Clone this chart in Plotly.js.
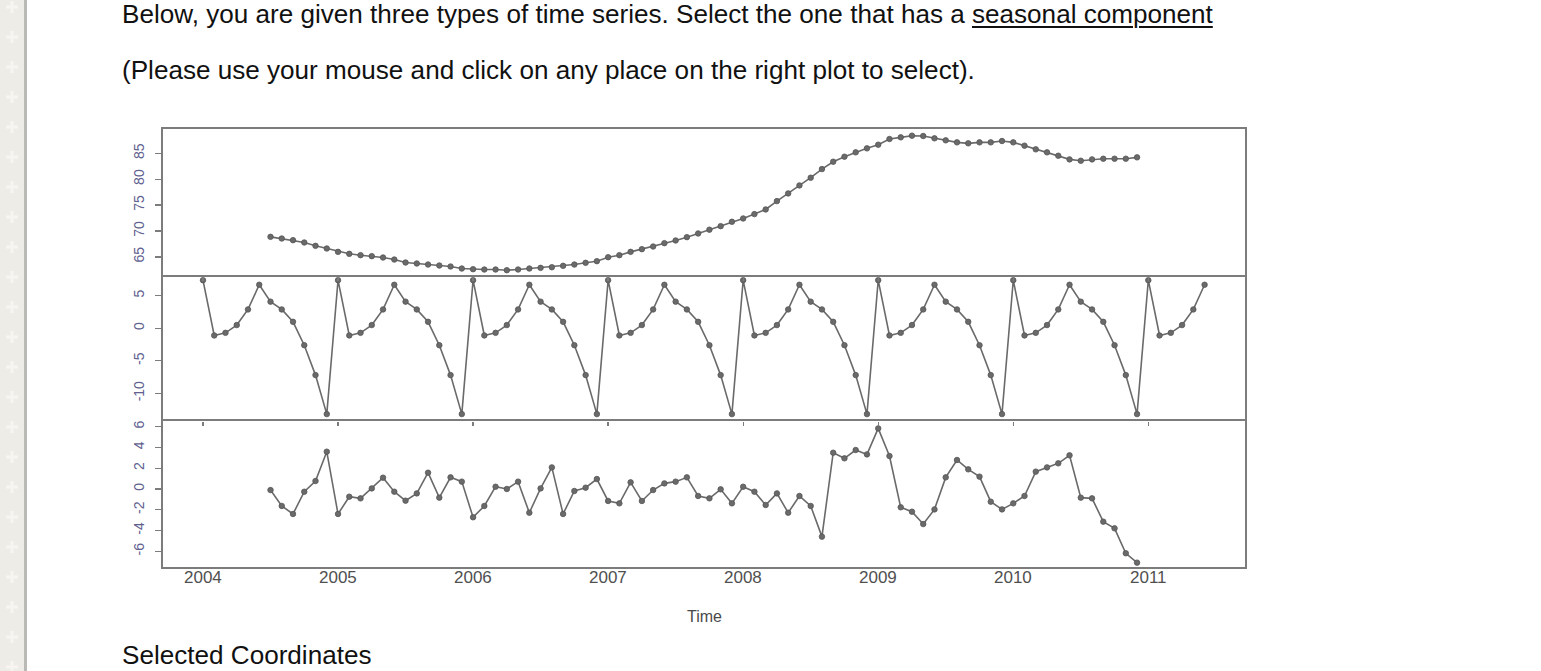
<!DOCTYPE html>
<html>
<head>
<meta charset="utf-8">
<script src="https://cdn.plot.ly/plotly-3.0.1.min.js"></script>
<style>
  html, body { margin: 0; padding: 0; width: 1541px; height: 671px; overflow: hidden; background: #ffffff; }
  body { position: relative; font-family: "Liberation Sans", Arial, Helvetica, sans-serif; color: #111; }
  #strip { position: absolute; left: 0; top: 0; width: 24px; height: 671px; background: #eeece6; border-right: 3px solid #b9b9b6; }
  .txt { position: absolute; left: 122px; font-size: 26.1px; line-height: 26px; white-space: nowrap; z-index: 5; }
  .txt u { text-decoration-thickness: 1.5px; text-underline-offset: 3px; }
  #plot { position: absolute; left: 0; top: 0; width: 1541px; height: 671px; z-index: 2; }
</style>
</head>
<body>
<div id="strip">
  <svg width="24" height="671" xmlns="http://www.w3.org/2000/svg">
    <defs>
      <pattern id="plus" x="0" y="-8" width="24" height="30" patternUnits="userSpaceOnUse">
        <path d="M12 9 V21 M6 15 H18" stroke="#f6f5f1" stroke-width="3"/>
      </pattern>
    </defs>
    <rect width="24" height="671" fill="url(#plus)"/>
  </svg>
</div>
<div class="txt" id="t1" style="top:1px;">Below, you are given three types of time series. Select the one that has a <u>seasonal component</u></div>
<div class="txt" id="t2" style="top:57px;">(Please use your mouse and click on any place on the right plot to select).</div>
<div class="txt" id="t3" style="top:642px;">Selected Coordinates</div>
<div id="plot"></div>
<script>
// ---- data (monthly series) ----
var startYear = 2004;          // seasonal series starts Jan 2004
var trendStartMonth = 6;       // trend / random start Jul 2004 (months after Jan 2004)

var yearTicks = [2004, 2005, 2006, 2007, 2008, 2009, 2010, 2011];
var yearLabels = ["2004", "2005", "2006", "2007", "2008", "2009", "2010", "2011"];

var trendTicks = [65, 70, 75, 80, 85];
var trendTickLabels = ["65", "70", "75", "80", "85"];
var seasonalTicks = [-10, -5, 0, 5];
var seasonalTickLabels = ["-10", "-5", "0", "5"];
var randomTicks = [-6, -4, -2, 0, 2, 4, 6];
var randomTickLabels = ["-6", "-4", "-2", "0", "2", "4", "6"];

var trendValues = [
  68.87, 68.55, 68.23, 67.78, 67.13, 66.62, 65.97, 65.59, 65.33, 65.14, 64.88, 64.49,
  63.91, 63.72, 63.52, 63.33, 63.14, 62.75, 62.62, 62.56, 62.56, 62.43, 62.56, 62.75,
  62.88, 63.00, 63.27, 63.52, 63.85, 64.17, 64.94, 65.33, 65.97, 66.49, 67.00, 67.65,
  68.17, 68.81, 69.52, 70.25, 70.94, 71.78, 72.42, 73.26, 74.16, 75.77, 77.26, 78.80,
  80.29, 81.96, 83.38, 84.35, 85.19, 85.96, 86.67, 87.77, 88.09, 88.41, 88.35, 87.90,
  87.51, 87.12, 86.93, 87.12, 87.12, 87.38, 87.12, 86.48, 85.77, 85.19, 84.54, 83.83,
  83.57, 83.83, 83.96, 83.96, 83.96, 84.22
];

var seasonalValues = [
  7.4, -1.1, -0.7, 0.5, 2.9, 6.7, 4.1, 2.9, 1.0, -2.6, -7.2, -13.2,
  7.4, -1.1, -0.7, 0.5, 2.9, 6.7, 4.1, 2.9, 1.0, -2.6, -7.2, -13.2,
  7.4, -1.1, -0.7, 0.5, 2.9, 6.7, 4.1, 2.9, 1.0, -2.6, -7.2, -13.2,
  7.4, -1.1, -0.7, 0.5, 2.9, 6.7, 4.1, 2.9, 1.0, -2.6, -7.2, -13.2,
  7.4, -1.1, -0.7, 0.5, 2.9, 6.7, 4.1, 2.9, 1.0, -2.6, -7.2, -13.2,
  7.4, -1.1, -0.7, 0.5, 2.9, 6.7, 4.1, 2.9, 1.0, -2.6, -7.2, -13.2,
  7.4, -1.1, -0.7, 0.5, 2.9, 6.7, 4.1, 2.9, 1.0, -2.6, -7.2, -13.2,
  7.4, -1.1, -0.7, 0.5, 2.9, 6.7
];

var randomValues = [
  -0.10, -1.63, -2.40, -0.26, 0.77, 3.59, -2.40, -0.74, -0.90, 0.06, 1.09, -0.26,
  -1.12, -0.42, 1.57, -0.83, 1.12, 0.71, -2.72, -1.63, 0.22, 0.00, 0.71, -2.28,
  0.06, 2.08, -2.40, -0.19, 0.13, 0.96, -1.15, -1.38, 0.64, -1.15, -0.10, 0.54,
  0.71, 1.12, -0.67, -0.90, -0.03, -1.38, 0.22, -0.26, -1.54, -0.42, -2.28, -0.67,
  -1.63, -4.58, 3.49, 2.95, 3.75, 3.33, 5.83, 3.17, -1.76, -2.18, -3.37, -1.96,
  1.12, 2.79, 1.89, 1.19, -1.22, -1.96, -1.38, -0.67, 1.67, 2.08, 2.47, 3.24,
  -0.83, -0.90, -3.14, -3.78, -6.18, -7.08
];

// ---- time positions (decimal years) ----
function timesFrom(offset, n) {
  var t = [];
  for (var i = 0; i < n; i++) t.push(startYear + (offset + i) / 12);
  return t;
}
var seasonalTimes = timesFrom(0, seasonalValues.length);
var trendTimes = timesFrom(trendStartMonth, trendValues.length);
var randomTimes = timesFrom(trendStartMonth, randomValues.length);

var lineStyle = { color: '#6a6a6a', width: 1.6 };
var markerStyle = { color: '#6a6a6a', size: 5.5, line: { color: '#555555', width: 0.8 } };

var traces = [
  { x: trendTimes, y: trendValues, xaxis: 'x3', yaxis: 'y3', type: 'scatter', mode: 'lines+markers', line: lineStyle, marker: markerStyle, hoverinfo: 'skip' },
  { x: seasonalTimes, y: seasonalValues, xaxis: 'x2', yaxis: 'y2', type: 'scatter', mode: 'lines+markers', line: lineStyle, marker: markerStyle, hoverinfo: 'skip' },
  { x: randomTimes, y: randomValues, xaxis: 'x', yaxis: 'y', type: 'scatter', mode: 'lines+markers', line: lineStyle, marker: markerStyle, hoverinfo: 'skip' }
];

var frameColor = '#7c7c7c';
var xRange = [2003.704, 2011.716];
var fontFam = 'Liberation Sans, Arial, sans-serif';

function xAxis(anchor, drawLine, tickStyle) {
  return {
    anchor: anchor, domain: [0, 1], range: xRange,
    tickmode: 'array', tickvals: yearTicks, ticktext: yearLabels,
    showticklabels: false,
    ticks: tickStyle, ticklen: 4, tickwidth: 1.3, tickcolor: frameColor,
    showline: drawLine, mirror: drawLine, linecolor: frameColor, linewidth: 2,
    showgrid: false, zeroline: false
  };
}
function yAxis(anchor, domain, range, ticks, labels) {
  return {
    anchor: anchor, domain: domain, range: range,
    tickmode: 'array', tickvals: ticks, ticktext: labels,
    ticks: 'outside', ticklen: 6, tickwidth: 1.3, tickcolor: frameColor,
    tickangle: -90, ticklabelstandoff: 5,
    showline: true, mirror: true, linecolor: frameColor, linewidth: 2,
    showgrid: false, zeroline: false,
    tickfont: { family: fontFam, size: 14, color: '#60608f' }
  };
}

var annotations = [
  { text: 'Time', xref: 'paper', yref: 'paper', x: 0.5, y: -0.114, xanchor: 'center', yanchor: 'middle', showarrow: false,
    font: { family: fontFam, size: 16, color: '#4a4a4a' } }
];
for (var k = 0; k < yearTicks.length; k++) {
  annotations.push({ text: yearLabels[k], xref: 'x', yref: 'paper', x: yearTicks[k], y: -0.023,
    xanchor: 'center', yanchor: 'middle', showarrow: false,
    font: { family: fontFam, size: 17, color: '#505050' } });
}

var layout = {
  width: 1541, height: 671,
  margin: { l: 163, r: 296, t: 129, b: 104, pad: 0 },
  paper_bgcolor: 'rgba(0,0,0,0)', plot_bgcolor: '#ffffff',
  showlegend: false,
  xaxis: xAxis('y', true, ''),
  xaxis2: xAxis('y2', false, 'outside'),
  xaxis3: xAxis('y3', true, 'outside'),
  yaxis: yAxis('x', [0, 1/3], [-7.5, 6.54], randomTicks, randomTickLabels),
  yaxis2: yAxis('x2', [1/3, 2/3], [-14.26, 8.2], seasonalTicks, seasonalTickLabels),
  yaxis3: yAxis('x3', [2/3, 1], [61.5, 89.7], trendTicks, trendTickLabels),
  annotations: annotations
};

Plotly.newPlot('plot', traces, layout, { staticPlot: true, displayModeBar: false });
</script>
</body>
</html>
